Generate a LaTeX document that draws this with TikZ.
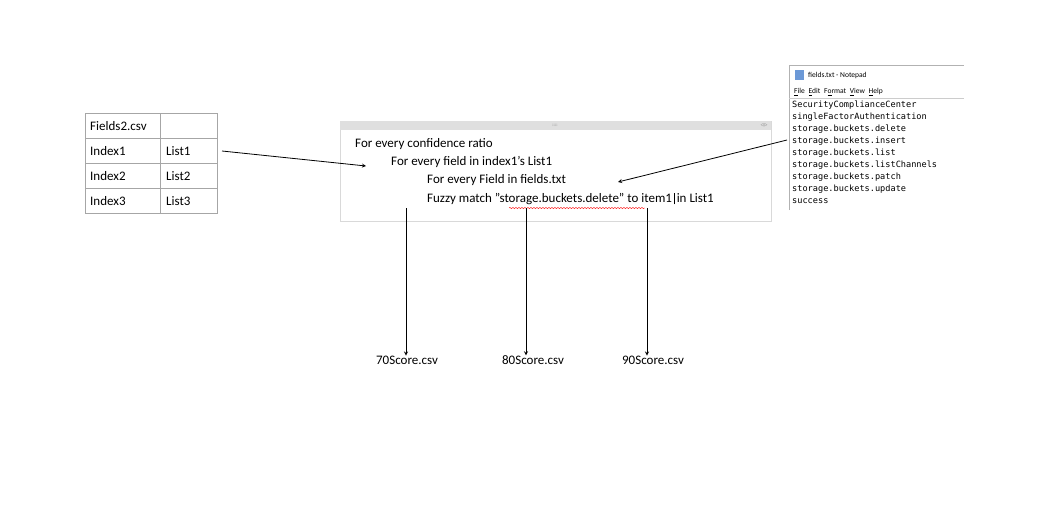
\documentclass[tikz,border=0pt]{standalone}
\usetikzlibrary{decorations.pathmorphing}
\usepackage{fontspec}
\setmainfont{Carlito}
\newfontfamily\monof{DejaVu Sans Mono}
\begin{document}
\begin{tikzpicture}[x=1pt,y=-1pt,
  txt/.style={anchor=west,inner sep=0pt,font=\fontsize{13}{15}\selectfont},
  mono/.style={anchor=west,inner sep=0pt,font=\monof\fontsize{8.6}{10}\selectfont},
  arr/.style={->,>=stealth,thick,black}]
\useasboundingbox (0,0) rectangle (1044,523);
% table
\foreach \a/\b [count=\i from 0] in {Fields2.csv/{},Index1/List1,Index2/List2,Index3/List3}{
  \draw[gray!70] (85,113+\i*25) rectangle (160,138+\i*25);
  \draw[gray!70] (160,113+\i*25) rectangle (217,138+\i*25);
  \node[txt] at (90,126+\i*25) {\a};
  \node[txt] at (166,126+\i*25) {\b};
}
\coordinate (tabout) at (222,151);
% central box
\draw[gray!30] (340,121) rectangle (771,221);
\fill[gray!25] (340,121) rectangle (771,130);
\node[font=\tiny,gray] at (555,125.5) {::::};
\node[font=\tiny,gray] at (764,125.5) {$\triangleleft\triangleright$};
\node[txt] (l1) at (355,144) {For every confidence ratio};
\node[txt] (l2) at (391,162) {For every field in index1's List1};
\node[txt] (l3) at (427,180) {For every Field in fields.txt};
\node[txt] (l4) at (427,199) {Fuzzy match "storage.buckets.delete" to item1\,\vrule height 9pt depth 2pt\,in List1};
\draw[red,decorate,decoration={snake,amplitude=0.6,segment length=3}] (509,208) -- (645,208);
\coordinate (in1) at (366,166);
\coordinate (in2) at (618,182);
% notepad
\draw[gray!60] (789,210) -- (789,65) -- (964,65);
\fill[cyan!50!blue!60] (795,70) rectangle (804,80);
\node[anchor=west,inner sep=0pt,font=\fontsize{7.5}{9}\selectfont] at (808,75) {fields.txt - Notepad};
\node[anchor=west,inner sep=0pt,font=\fontsize{7.5}{9}\selectfont] at (794,92) {\underline{F}ile\enspace \underline{E}dit\enspace F\underline{o}rmat\enspace \underline{V}iew\enspace \underline{H}elp};
\draw[gray!40] (789,98) -- (964,98);
\foreach \t [count=\i from 0] in {SecurityComplianceCenter,singleFactorAuthentication,storage.buckets.delete,storage.buckets.insert,storage.buckets.list,storage.buckets.listChannels,storage.buckets.patch,storage.buckets.update,success}
  \node[mono] at (792,105+\i*12) {\t};
\coordinate (npout) at (787,140);
% arrows
\draw[arr] (tabout) -- (in1);
\draw[arr] (npout) -- (in2);
\node[txt,anchor=center] (s70) at (407,360) {70Score.csv};
\node[txt,anchor=center] (s80) at (533,360) {80Score.csv};
\node[txt,anchor=center] (s90) at (653,360) {90Score.csv};
\coordinate (d1) at (406,208);
\coordinate (d2) at (526,208);
\coordinate (d3) at (647,208);
\draw[arr] (d1) -- (d1 |- s70.north);
\draw[arr] (d2) -- (d2 |- s80.north);
\draw[arr] (d3) -- (d3 |- s90.north);
\end{tikzpicture}
\end{document}
